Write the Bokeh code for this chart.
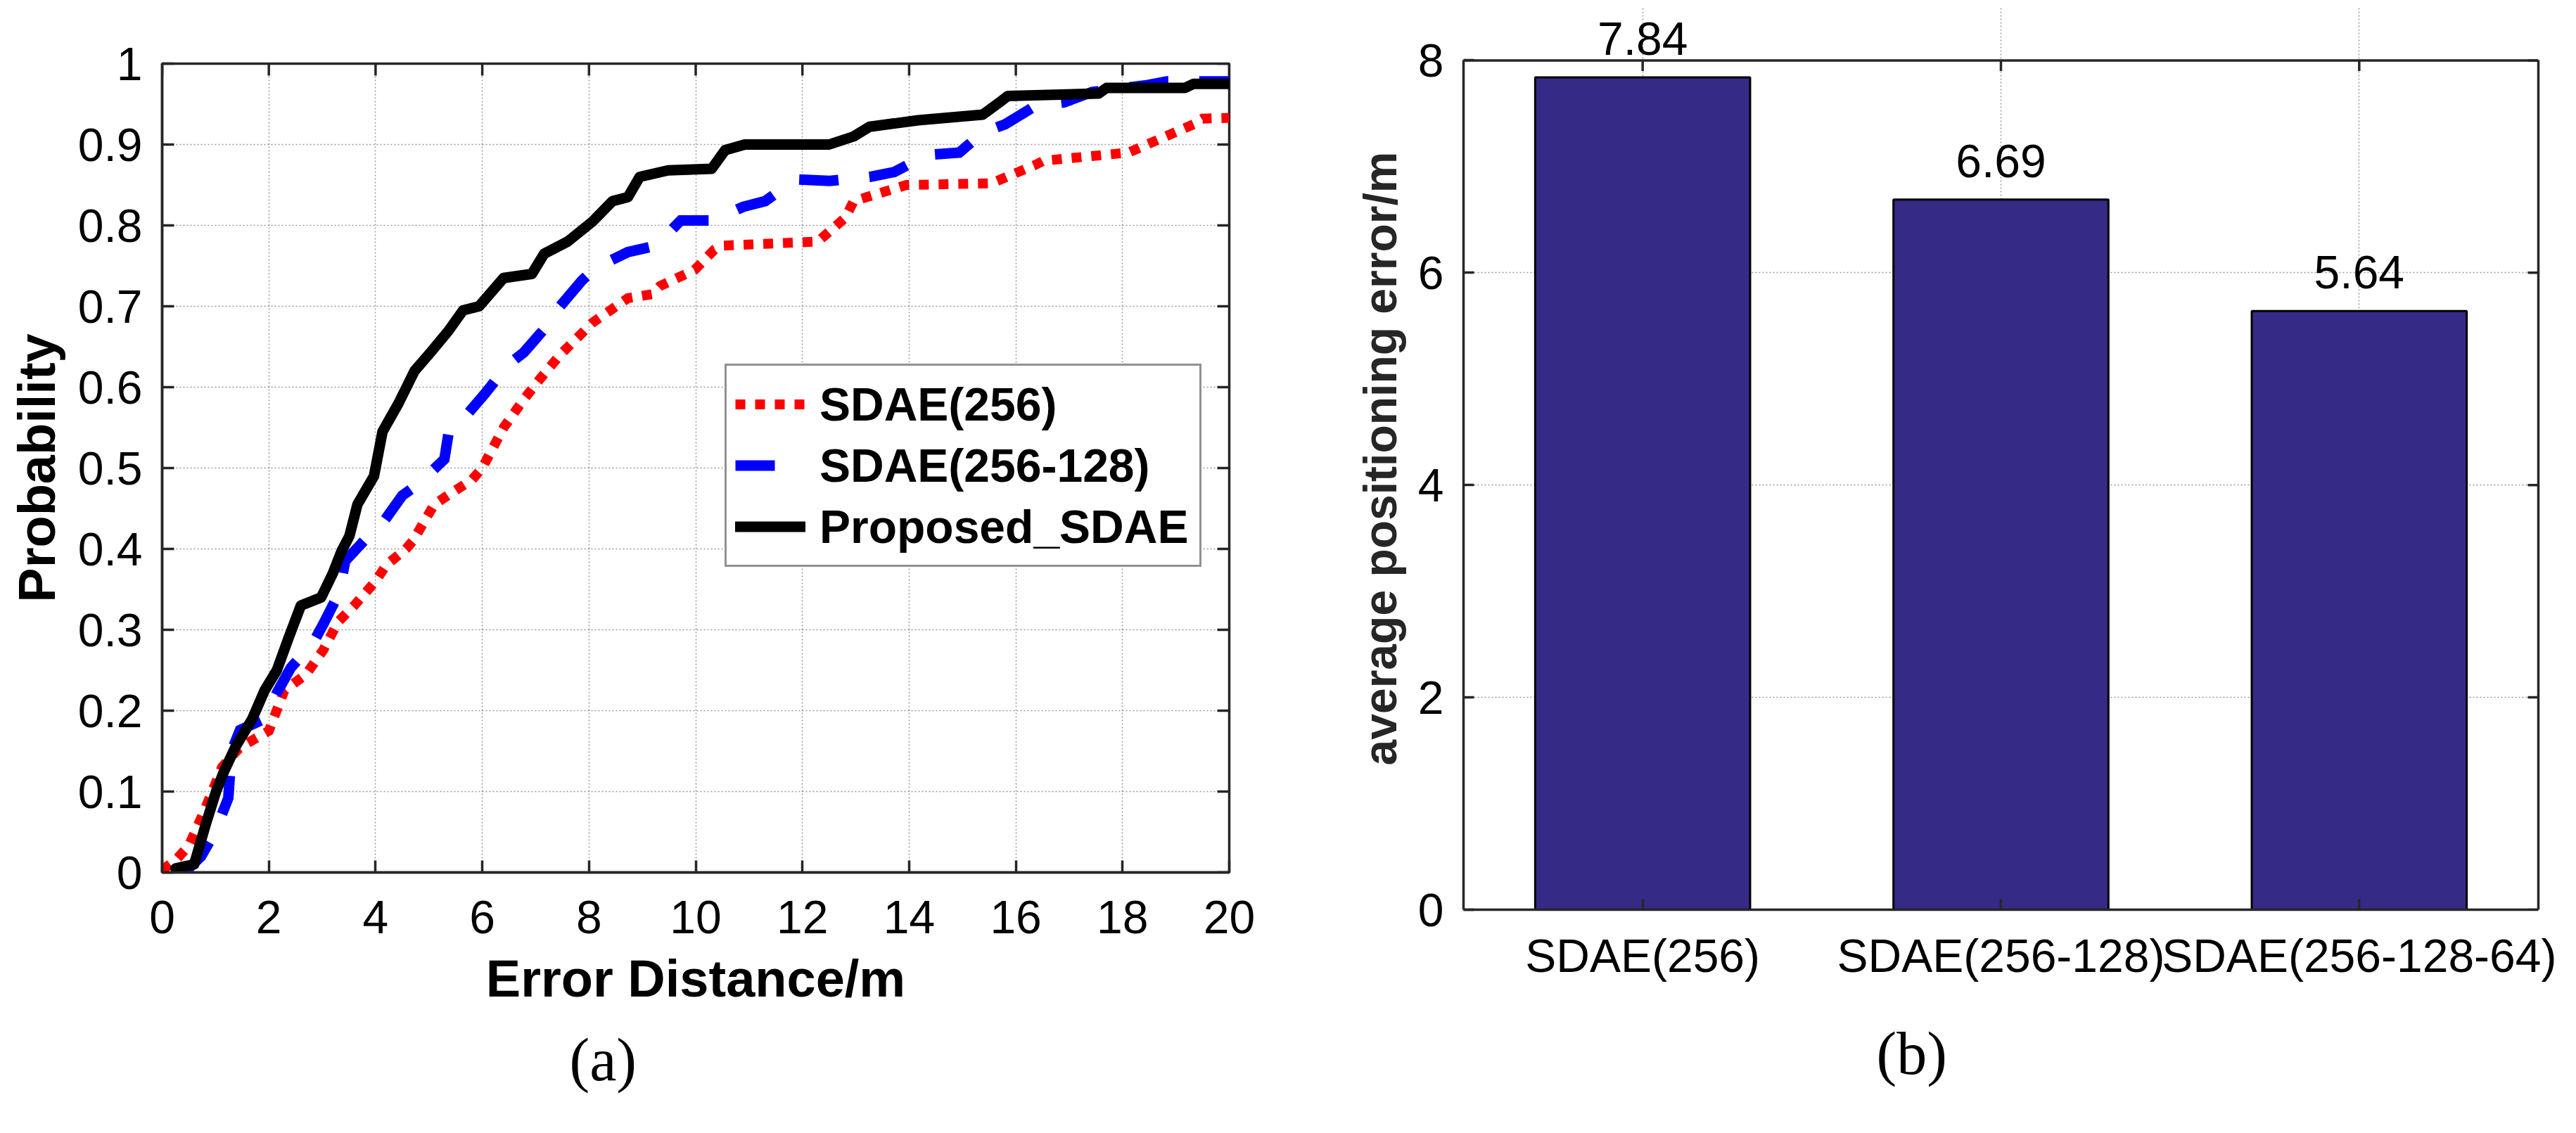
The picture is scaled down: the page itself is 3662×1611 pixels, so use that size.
import math
from bokeh.plotting import figure
from bokeh.layouts import row
from bokeh.models import (Range1d, FixedTicker, LinearAxis, Legend, LegendItem,
                          ColumnDataSource, LabelSet, Title, Span)
from bokeh.core.properties import value
from bokeh.embed import file_html
from bokeh.resources import INLINE

# ---------------- data: (a) CDF of error distance ----------------
red_x = [0, 0.25, 0.5, 0.75, 1.0, 1.12, 1.42, 1.6, 2.0, 2.29, 2.7, 3.02, 3.3, 3.6, 4.0,
         4.2, 4.57, 4.7, 5.1, 5.44, 5.8, 6.0, 6.4, 6.78, 7.08, 7.46, 8.07, 8.73, 9.18,
         9.33, 9.98, 10.35, 10.5, 12.29, 12.81, 12.96, 13.95, 15.54, 16.37, 16.52,
         18.11, 19.33, 19.5, 20]
red_y = [0.003, 0.015, 0.033, 0.07, 0.11, 0.13, 0.152, 0.16, 0.175, 0.225, 0.245, 0.275,
         0.31, 0.33, 0.36, 0.38, 0.4, 0.41, 0.455, 0.47, 0.485, 0.5, 0.55, 0.585, 0.61,
         0.64, 0.68, 0.71, 0.715, 0.725, 0.745, 0.77, 0.775, 0.78, 0.81, 0.83, 0.85,
         0.852, 0.875, 0.88, 0.89, 0.925, 0.932, 0.933]

blue_x = [0.42, 0.73, 0.99, 1.24, 1.3, 1.46, 1.92, 2.15, 2.41, 2.83, 3.02, 3.32, 3.43,
          3.81, 4.11, 4.5, 4.8, 5.29, 5.37, 5.7, 6.05, 6.47, 6.78, 7.23, 7.42, 7.87,
          8.13, 8.73, 9.26, 9.72, 10.32, 10.89, 11.3, 11.87, 12.51, 13.26, 13.72, 14.33,
          14.94, 15.38, 15.8, 16.37, 16.9, 17.43, 18.42, 18.83, 20]
blue_y = [0.0, 0.02, 0.05, 0.092, 0.15, 0.176, 0.19, 0.222, 0.253, 0.284, 0.307, 0.346,
          0.385, 0.412, 0.43, 0.466, 0.48, 0.511, 0.544, 0.565, 0.592, 0.627, 0.643,
          0.677, 0.697, 0.732, 0.748, 0.767, 0.775, 0.806, 0.806, 0.823, 0.83, 0.857,
          0.855, 0.86, 0.866, 0.887, 0.89, 0.915, 0.925, 0.948, 0.952, 0.965, 0.973,
          0.978, 0.978]

black_x = [0.25, 0.6, 0.82, 1.01, 1.16, 1.38, 1.69, 1.92, 2.15, 2.37, 2.6, 2.98, 3.2,
           3.36, 3.51, 3.66, 3.97, 4.13, 4.43, 4.73, 5.03, 5.37, 5.64, 5.94, 6.4, 6.93,
           7.16, 7.6, 8.07, 8.44, 8.73, 8.95, 9.48, 10.3, 10.55, 10.92, 12.5, 12.96,
           13.26, 14.17, 15.38, 15.69, 15.85, 17.55, 17.7, 19.17, 19.33, 20]
black_y = [0.005, 0.01, 0.06, 0.10, 0.125, 0.156, 0.19, 0.225, 0.25, 0.29, 0.33, 0.34,
           0.37, 0.397, 0.416, 0.455, 0.49, 0.545, 0.58, 0.62, 0.643, 0.67, 0.695, 0.70,
           0.735, 0.74, 0.765, 0.78, 0.805, 0.83, 0.835, 0.86, 0.868, 0.87, 0.893, 0.9,
           0.9, 0.91, 0.922, 0.93, 0.937, 0.952, 0.96, 0.963, 0.97, 0.97, 0.975, 0.975]

series_names = ["SDAE(256)", "SDAE(256-128)", "Proposed_SDAE"]
x_ticks_a = [0, 2, 4, 6, 8, 10, 12, 14, 16, 18, 20]
y_ticks_a = [0, 0.1, 0.2, 0.3, 0.4, 0.5, 0.6, 0.7, 0.8, 0.9, 1]
y_tick_labels_a = ["0", "0.1", "0.2", "0.3", "0.4", "0.5", "0.6", "0.7", "0.8", "0.9", "1"]

# ---------------- data: (b) average positioning error ----------------
categories = ["SDAE(256)", "SDAE(256-128)", "SDAE(256-128-64)"]
errors = [7.84, 6.69, 5.64]
y_ticks_b = [0, 2, 4, 6, 8]

FONT = "Liberation Sans"
SERIF = "Liberation Serif"
AXC = "#262626"
TICK_FS = "66px"


def style_axis(ax, ticks, overrides=None, standoff=28, tick_in=17):
    ax.ticker = FixedTicker(ticks=ticks)
    ax.minor_tick_line_color = None
    ax.major_tick_in = tick_in
    ax.major_tick_out = 0
    ax.major_tick_line_color = AXC
    ax.major_tick_line_width = 3.5
    ax.axis_line_color = AXC
    ax.axis_line_width = 3.5
    ax.major_label_text_font = FONT
    ax.major_label_text_font_size = TICK_FS
    ax.major_label_text_color = "black"
    ax.major_label_standoff = standoff
    if overrides:
        ax.major_label_overrides = overrides


def style_grid(p, xt, yt):
    p.xgrid.ticker = FixedTicker(ticks=xt)
    p.ygrid.ticker = FixedTicker(ticks=yt)
    for g in (p.xgrid, p.ygrid):
        g.grid_line_color = "#000000"
        g.grid_line_alpha = 0.4
        g.grid_line_dash = "2 3"
        g.grid_line_width = 1.5


def inner_ticks(p, xt, y_at, yt, x_at, length):
    # MATLAB style tick marks on the top and right edges of the box
    p.ray(x=xt, y=[y_at] * len(xt), length=length, length_units="screen",
          angle=-math.pi / 2, line_color=AXC, line_width=3.5)
    p.ray(x=[x_at] * len(yt), y=yt, length=length, length_units="screen",
          angle=math.pi, line_color=AXC, line_width=3.5)


# ================= figure (a) =================
p1 = figure(width=1880, height=1595, x_range=Range1d(0, 20), y_range=Range1d(0, 1),
            output_backend="svg", toolbar_location=None,
            min_border_left=230, min_border_right=133, min_border_top=90,
            min_border_bottom=355)
p1.frame_align = False
p1.background_fill_color = "white"
p1.border_fill_color = "white"
p1.outline_line_color = AXC
p1.outline_line_width = 3.5

xax1 = p1.xaxis[0]
yax1 = p1.yaxis[0]
style_axis(xax1, x_ticks_a, standoff=40)
style_axis(yax1, y_ticks_a, overrides=dict(zip(y_ticks_a, y_tick_labels_a)))
style_grid(p1, x_ticks_a, y_ticks_a)

xax1.axis_label = "Error Distance/m"
yax1.axis_label = "Probability"
for ax in (xax1, yax1):
    ax.axis_label_text_font = FONT
    ax.axis_label_text_font_style = "bold"
    ax.axis_label_text_font_size = "74px"
    ax.axis_label_text_color = "black"
xax1.axis_label_standoff = 20
yax1.axis_label_standoff = 14

r_red = p1.line(red_x, red_y, line_color="#ff0000", line_width=14,
                line_dash="14 14", line_cap="butt", line_join="miter")
r_blue = p1.line(blue_x, blue_y, line_color="#0000ff", line_width=15,
                 line_dash="56 44", line_cap="butt", line_join="miter")
r_black = p1.line(black_x, black_y, line_color="#000000", line_width=15,
                  line_join="round", line_cap="round")
inner_ticks(p1, x_ticks_a, p1.y_range.end, y_ticks_a, p1.x_range.end, 17)

legend = Legend(items=[LegendItem(label=series_names[0], renderers=[r_red]),
                       LegendItem(label=series_names[1], renderers=[r_blue]),
                       LegendItem(label=series_names[2], renderers=[r_black])],
                location=(800, 434))
legend.glyph_width = 100
legend.glyph_height = 85
legend.label_height = 85
legend.label_width = 528
legend.label_standoff = 20
legend.padding = 12
legend.spacing = 2
legend.margin = 0
legend.border_line_color = AXC
legend.border_line_width = 3
legend.background_fill_color = "white"
legend.background_fill_alpha = 1.0
legend.label_text_font = FONT
legend.label_text_font_style = "bold"
legend.label_text_font_size = "66px"
legend.label_text_color = "black"
legend.label_text_baseline = "middle"
p1.add_layout(legend, "center")

cap_a = Title(text="(a)", align="left", offset=579, text_font=SERIF,
              text_font_size="86px", text_font_style="normal", text_color="black",
              standoff=43)
p1.add_layout(cap_a, "below")

# ================= figure (b) =================
Y_TOP_B = 8          # top of the axis box
bar_pos = list(range(1, len(categories) + 1))
src = ColumnDataSource(dict(x=bar_pos, err=errors,
                            txt=["%.2f" % v for v in errors]))

# range extends a little above the box so the value label of the tallest bar shows
p2 = figure(width=1766, height=1595, x_range=Range1d(0.5, 3.5), y_range=Range1d(0, 8.5),
            output_backend="svg", toolbar_location=None,
            min_border_left=200, min_border_right=38, min_border_top=10,
            min_border_bottom=302)
p2.frame_align = False
p2.background_fill_color = "white"
p2.border_fill_color = "white"
p2.outline_line_color = None

xax2 = p2.xaxis[0]
yax2 = p2.yaxis[0]
style_axis(xax2, bar_pos, overrides=dict(zip(bar_pos, categories)),
           standoff=28, tick_in=15)
style_axis(yax2, y_ticks_b, tick_in=15)
yax2.bounds = (0, Y_TOP_B)
right2 = LinearAxis(ticker=FixedTicker(ticks=[]), bounds=(0, Y_TOP_B),
                    axis_line_color=AXC, axis_line_width=3.5,
                    major_tick_line_color=None, minor_tick_line_color=None)
p2.add_layout(right2, "right")
style_grid(p2, bar_pos, y_ticks_b)
p2.xgrid.bounds = (0, Y_TOP_B)
p2.add_layout(Span(location=Y_TOP_B, dimension="width", line_color=AXC,
                   line_width=3.5))

yax2.axis_label = "average positioning error/m"
yax2.axis_label_text_font = FONT
yax2.axis_label_text_font_style = "bold"
yax2.axis_label_text_font_size = "66px"
yax2.axis_label_text_color = AXC
yax2.axis_label_standoff = 14

p2.vbar(x="x", top="err", bottom=0, width=0.6, source=src,
        fill_color="#362a87", line_color="black", line_width=3)
inner_ticks(p2, bar_pos, Y_TOP_B, y_ticks_b, p2.x_range.end, 15)

labels_b = LabelSet(x="x", y="err", text="txt", source=src, y_offset=32,
                    text_align="center", text_baseline="alphabetic",
                    text_font=value(FONT), text_font_size=value("66px"),
                    text_color="black")
p2.add_layout(labels_b)

cap_b = Title(text="(b)", align="left", offset=587, text_font=SERIF,
              text_font_size="86px", text_font_style="normal", text_color="black",
              standoff=99)
p2.add_layout(cap_b, "below")

layout = row(p1, p2)
open("out.html", "w").write(file_html(layout, INLINE))
